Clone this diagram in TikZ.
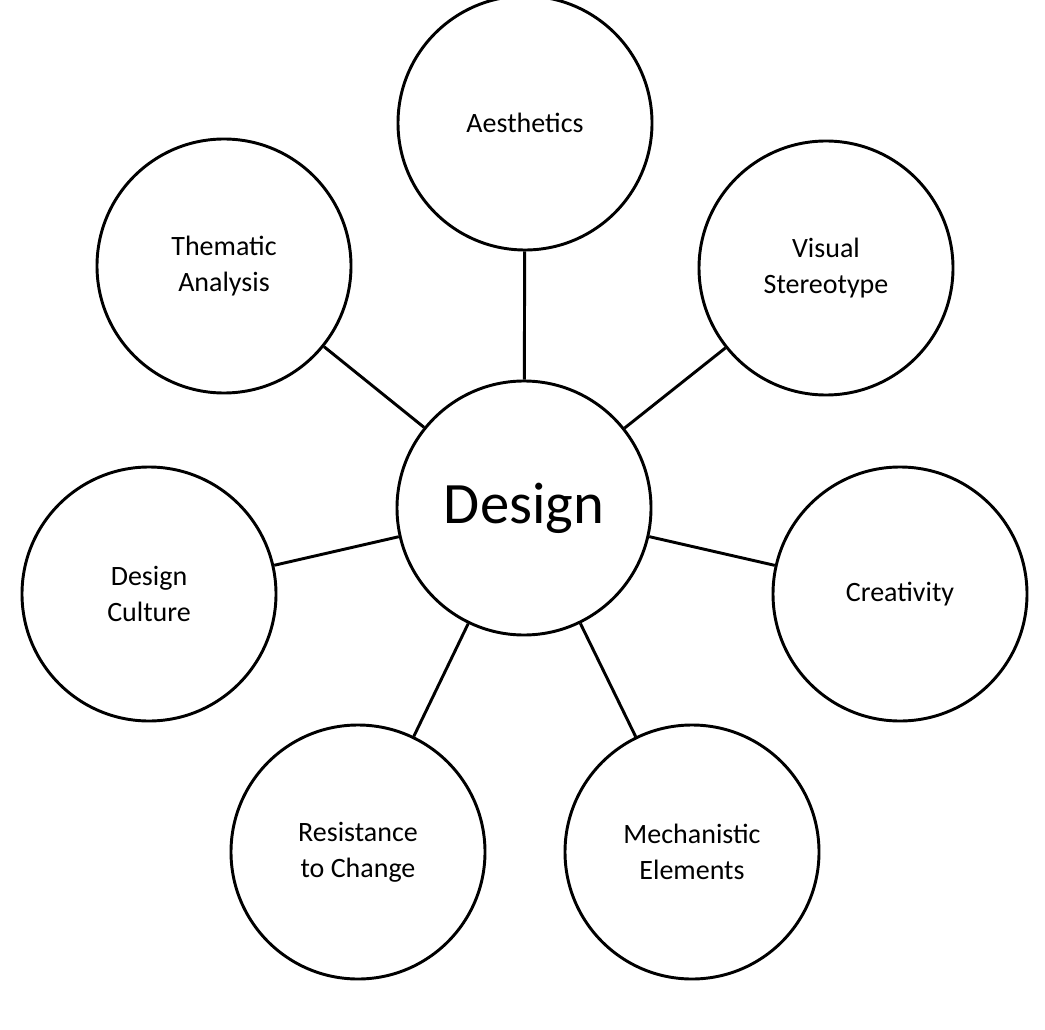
\documentclass[tikz,border=0pt]{standalone}
\usepackage{fontspec}
\setmainfont{Carlito}
\begin{document}
\begin{tikzpicture}[x=0.75pt,y=-0.75pt,
  bub/.style={circle,draw,line width=2.2pt,minimum size=254*0.75pt,inner sep=0pt,align=center,font=\fontsize{21}{27}\selectfont},
  link/.style={line width=2.2pt}]
\useasboundingbox (0,0) rectangle (1045,1030);
\node[bub,font=\fontsize{44}{50}\selectfont] (d) at (524,508) {Design};
\node[bub] (a) at (525,123) {Aesthetics};
\node[bub] (t) at (224,266) {Thematic\\Analysis};
\node[bub] (v) at (826,268) {Visual\\Stereotype};
\node[bub] (c) at (149,594) {Design\\Culture};
\node[bub] (cr) at (900,594) {Creativity};
\node[bub] (r) at (358,852) {Resistance\\to Change};
\node[bub] (m) at (692,852) {Mechanistic\\Elements};
\foreach \n in {a,t,v,c,cr,r,m} \draw[link] (d) -- (\n);
\end{tikzpicture}
\end{document}
